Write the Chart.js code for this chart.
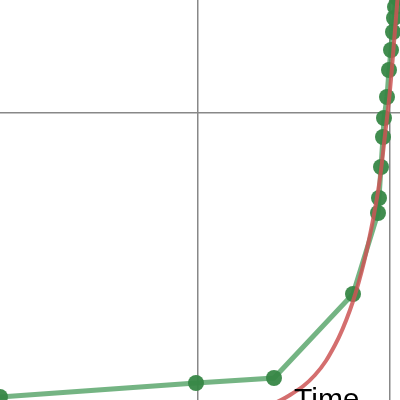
<!DOCTYPE html>
<html><head><meta charset="utf-8">
<script src="https://cdn.jsdelivr.net/npm/chart.js@4"></script>
<style>html,body{margin:0;padding:0;background:#fff;overflow:hidden}#w{width:416px;height:416px;margin:-8px 0 0 -8px}</style>
</head><body><div id="w"><canvas id="c"></canvas></div>
<script>
const obsX=[0,196,274,353,378,379,381,383,384,387,389,391,393,394,395,397];
const obsY=[3,17,22,106,187,202,233,263,282,303,330,350,368,382,393,402];
const fitX=[260,290,315,335,350,362,371,379,385,390,395,399];
const fitY=[-10,5,25,55,90,130,170,215,265,310,370,420];
const gridX=[198,390];
const gridY=[287];
const label='Time';
const textPlugin={id:'t',afterDraw(ch){const c=ch.ctx;c.save();c.font='30px "Liberation Sans", Arial';c.fillStyle='#000';c.textBaseline='alphabetic';c.fillText(label,ch.scales.x.getPixelForValue(294),ch.scales.y.getPixelForValue(-9));c.restore();}};
new Chart(document.getElementById('c'),{type:'scatter',
data:{datasets:[
{data:fitX.map((x,i)=>({x,y:fitY[i]})),showLine:true,borderColor:'rgba(205,85,85,0.85)',borderWidth:4,pointRadius:0,tension:0.4,order:1,clip:false},
{data:obsX.map((x,i)=>({x,y:obsY[i]})),showLine:true,borderColor:'rgba(70,155,90,0.75)',borderWidth:5,pointRadius:8,pointBackgroundColor:'rgba(55,135,70,0.95)',pointBorderWidth:0,order:2,clip:false}
]},
options:{responsive:true,maintainAspectRatio:false,animation:false,layout:{padding:0},
plugins:{legend:{display:false},tooltip:{enabled:false}},
scales:{
x:{type:'linear',min:0,max:400,display:true,border:{display:false},ticks:{display:false},grid:{color:'#888',lineWidth:1.5,drawTicks:false},afterBuildTicks(s){s.ticks=gridX.map(v=>({value:v}));}},
y:{type:'linear',min:0,max:400,display:true,border:{display:false},ticks:{display:false},grid:{color:'#888',lineWidth:1.5,drawTicks:false},afterBuildTicks(s){s.ticks=gridY.map(v=>({value:v}));}}
}},plugins:[textPlugin]});
</script></body></html>
